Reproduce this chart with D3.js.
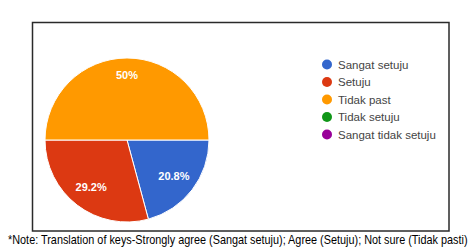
<!DOCTYPE html>
<html>
<head>
<meta charset="utf-8">
<script src="https://cdn.jsdelivr.net/npm/d3@7"></script>
<style>
  html, body { margin: 0; padding: 0; background: #fff; }
  svg { display: block; }
</style>
</head>
<body>
<svg id="chart" width="474" height="249"></svg>
<script>
// ---- Data ----
const categories = ["Sangat setuju", "Setuju", "Tidak past", "Tidak setuju", "Sangat tidak setuju"];
const values = [20.8, 29.2, 50, 0, 0];
const labels = ["20.8%", "29.2%", "50%", "", ""];
const colors = ["#3366cc", "#dc3912", "#ff9900", "#109618", "#990099"];
const noteText = "*Note: Translation of keys-Strongly agree (Sangat setuju); Agree (Setuju); Not sure (Tidak pasti)";

// ---- Layout ----
const W = 474, H = 249;
const frame = { x: 32.5, y: 22.5, w: 416.5, h: 208.5 };
const cx = 127, cy = 140, R = 82;
const legend = { x: 327, y: 64.5, step: 17.5, r: 5 };

const svg = d3.select("#chart");

svg.append("rect")
  .attr("x", frame.x).attr("y", frame.y)
  .attr("width", frame.w).attr("height", frame.h)
  .attr("fill", "#fff")
  .attr("stroke", "#2a2a2a")
  .attr("stroke-width", 1.5);

const color = d3.scaleOrdinal().domain(categories).range(colors);

const data = categories.map((c, i) => ({ cat: c, value: values[i], label: labels[i] }));

const pie = d3.pie()
  .sort(null)
  .value(d => d.value)
  .startAngle(Math.PI / 2)
  .endAngle(Math.PI / 2 + 2 * Math.PI);

const arcs = pie(data).filter(d => d.data.value > 0);

const arc = d3.arc().innerRadius(0).outerRadius(R);
const labelArc = d3.arc().innerRadius(R * 0.72).outerRadius(R * 0.72);

const g = svg.append("g").attr("transform", `translate(${cx},${cy})`);

g.selectAll("path.slice")
  .data(arcs)
  .join("path")
  .attr("class", "slice")
  .attr("d", arc)
  .attr("fill", d => color(d.data.cat))
  .attr("stroke", "#ffffff")
  .attr("stroke-width", 1);

g.selectAll("text.lbl")
  .data(arcs)
  .join("text")
  .attr("class", "lbl")
  .attr("transform", d => {
    const [x, y] = labelArc.centroid(d);
    const big = (d.endAngle - d.startAngle) > Math.PI * 0.9 ? 1.1 : 1;
    return `translate(${x * big},${y * big})`;
  })
  .attr("text-anchor", "middle")
  .attr("dominant-baseline", "central")
  .attr("fill", "#ffffff")
  .attr("font-family", "'Liberation Sans', Arial, sans-serif")
  .attr("font-size", 11)
  .attr("font-weight", "bold")
  .text(d => d.data.label);

// ---- Legend ----
const lg = svg.append("g");
const rows = lg.selectAll("g.row")
  .data(data)
  .join("g")
  .attr("class", "row")
  .attr("transform", (d, i) => `translate(${legend.x},${legend.y + i * legend.step})`);

rows.append("circle")
  .attr("r", legend.r)
  .attr("fill", d => color(d.cat));

rows.append("text")
  .attr("x", 11)
  .attr("dy", "0.35em")
  .attr("fill", "#444")
  .attr("font-family", "'Liberation Sans', Arial, sans-serif")
  .attr("font-size", 11.5)
  .text(d => d.cat);

// ---- Note (condensed horizontally to mimic a narrow face) ----
const noteG = svg.append("g");
const note = noteG.append("text")
  .attr("x", 0)
  .attr("y", 0)
  .attr("fill", "#000")
  .attr("font-family", "'Liberation Sans Narrow', 'Arial Narrow', 'Liberation Sans', Arial, sans-serif")
  .attr("font-size", 12.5)
  .text(noteText);
const natural = note.node().getComputedTextLength();
const targetW = 460;
const sx = Math.min(1, targetW / natural);
noteG.attr("transform", `translate(8,243.5) scale(${sx},1)`);
</script>
</body>
</html>
